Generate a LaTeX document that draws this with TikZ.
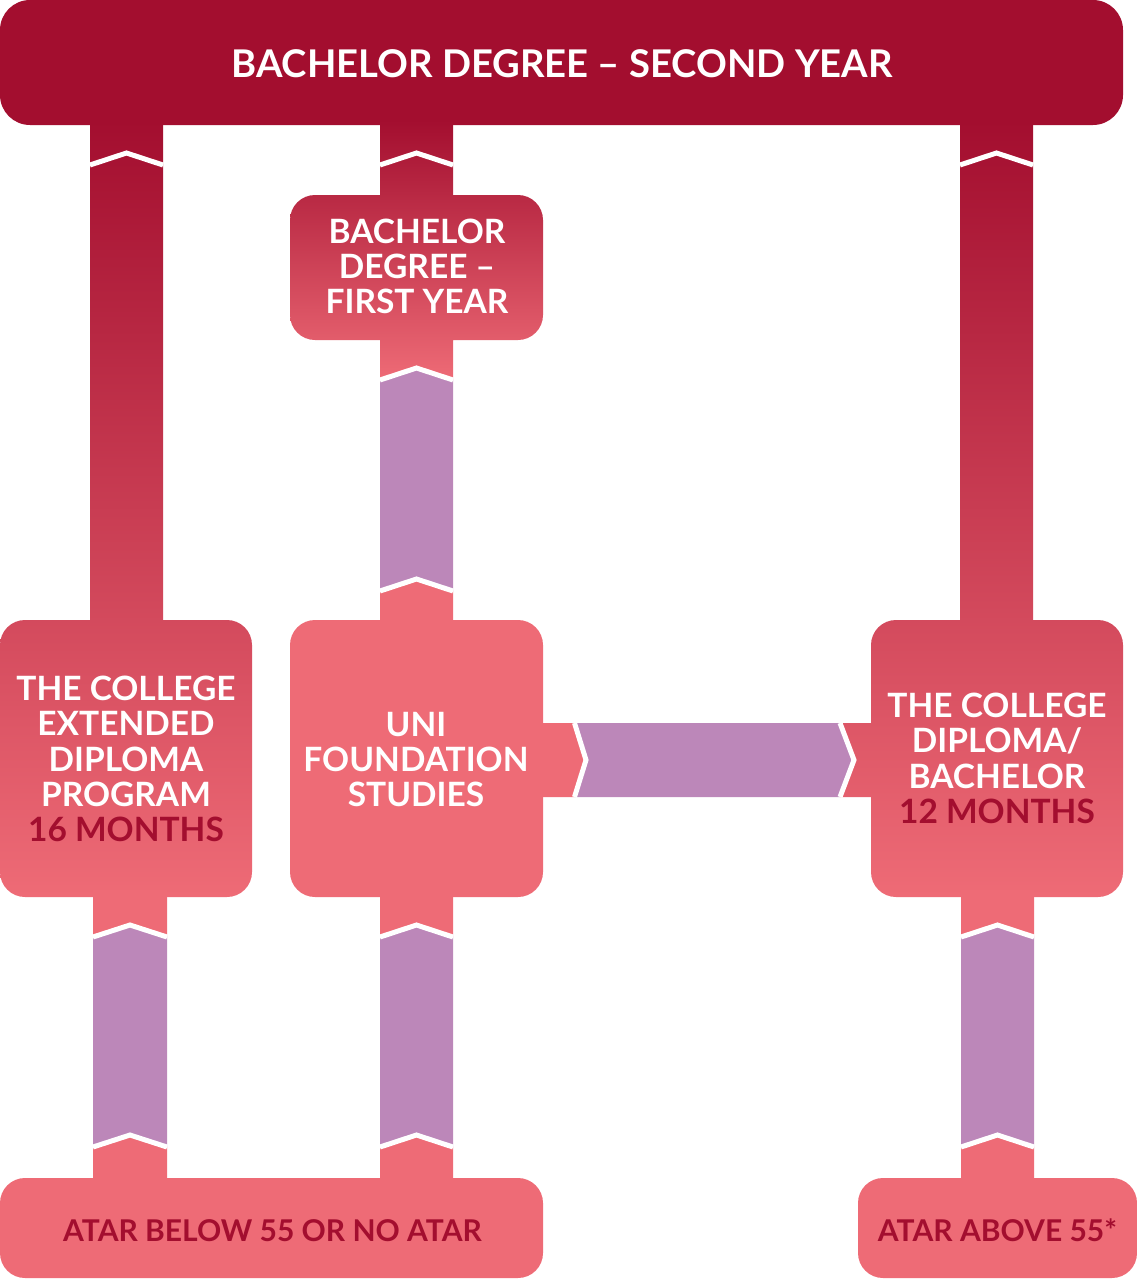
\documentclass[tikz,border=0pt]{standalone}
\usepackage{fontspec}
\setmainfont{Lato}
\definecolor{dred}{HTML}{A30E2F}
\definecolor{cpink}{HTML}{EE6B76}
\definecolor{cpurp}{HTML}{BC87B9}
\tikzset{
  lbl/.style={text=white, font=\fontsize{33.5}{35.3}\selectfont\bfseries, align=center, inner sep=0pt},
  title/.style={text=white, font=\fontsize{38.2}{44}\selectfont\bfseries, inner sep=0pt, anchor=base},
  atar/.style={text=dred, font=\fontsize{30}{34}\selectfont\bfseries, inner sep=0pt, anchor=base},
  chev/.style={draw=white, line width=5pt},
  purp/.style={fill=cpurp},
  pinkf/.style={fill=cpink},
  grad/.style={top color=dred, bottom color=cpink},
}
\begin{document}
\begin{tikzpicture}[x=1pt,y=-1pt]
\useasboundingbox (0,0) rectangle (1137,1280);
% top bar
\fill[dred, rounded corners=30] (0,0) rectangle (1123,125);
% left column (stem + box)
\shade[grad] (90,120) rectangle (163,640) [rounded corners=25] (0,620) rectangle (252,897);
% right column (stem + box + stub)
\shade[grad] (960,120) rectangle (1033,640) [rounded corners=25] (871,620) rectangle (1123,897)
  [sharp corners] (840,723) -- (854,760) -- (840,797) -- (890,797) -- (890,723) -- cycle;
% middle upper (stem + first year box)
\shade[grad] (380,120) -- (380,380) -- (416.5,368) -- (453,380) -- (453,120) -- cycle
  [rounded corners=25] (290,195) rectangle (543,340);
% middle purple
\fill[purp] (380,380) -- (416.5,368) -- (453,380) -- (453,591) -- (416.5,579) -- (380,591) -- cycle;
% middle pink stem + uni box + stub
\fill[pinkf] (380,591) -- (416.5,579) -- (453,591) -- (453,640) -- (380,640) -- cycle;
\fill[pinkf, rounded corners=25] (290,620) rectangle (543,897);
\fill[pinkf] (530,723) -- (574.5,723) -- (586,760) -- (574.5,797) -- (530,797) -- cycle;
% horizontal purple
\fill[purp] (574.5,723) -- (586,760) -- (574.5,797) -- (840,797) -- (854,760) -- (840,723) -- cycle;
% lower stems
\foreach \xa/\c/\xb in {93/130/167, 380/416.5/453, 961/997.5/1034}{
  \fill[pinkf] (\xa,890) -- (\xa,937) -- (\c,925) -- (\xb,937) -- (\xb,890) -- cycle;
  \fill[purp] (\xa,937) -- (\c,925) -- (\xb,937) -- (\xb,1147) -- (\c,1135) -- (\xa,1147) -- cycle;
  \fill[pinkf] (\xa,1147) -- (\c,1135) -- (\xb,1147) -- (\xb,1185) -- (\xa,1185) -- cycle;
  \draw[chev] (\xa,937) -- (\c,925) -- (\xb,937);
  \draw[chev] (\xa,1147) -- (\c,1135) -- (\xb,1147);
}
% ATAR boxes
\fill[pinkf, rounded corners=25] (0,1178) rectangle (543,1278);
\fill[pinkf, rounded corners=25] (858,1178) rectangle (1137,1278);
% chevrons
\foreach \xa/\c/\xb in {90/126.5/163, 380/416.5/453, 960/996.5/1033}{
  \draw[chev] (\xa,165) -- (\c,153) -- (\xb,165);
}
\draw[chev] (380,380) -- (416.5,368) -- (453,380);
\draw[chev] (380,591) -- (416.5,579) -- (453,591);
\draw[chev] (574.5,723) -- (586,760) -- (574.5,797);
\draw[chev] (840,723) -- (854,760) -- (840,797);
% texts
\node[title] (second) at (562,77) {BACHELOR DEGREE – SECOND YEAR};
\node[lbl] (first) at (417,266.5) {BACHELOR\\DEGREE –\\FIRST YEAR};
\node[lbl] (ext) at (126,759) {THE COLLEGE\\EXTENDED\\DIPLOMA\\PROGRAM\\\textcolor{dred}{16 MONTHS}};
\node[lbl] (uni) at (416,759.5) {UNI\\FOUNDATION\\STUDIES};
\node[lbl] (dip) at (997,758.5) {THE COLLEGE\\DIPLOMA/\\BACHELOR\\\textcolor{dred}{12 MONTHS}};
\node[atar] (below) at (272.5,1241) {ATAR BELOW 55 OR NO ATAR};
\node[atar] (above) at (997.5,1241) {ATAR ABOVE 55*};
\end{tikzpicture}
\end{document}
